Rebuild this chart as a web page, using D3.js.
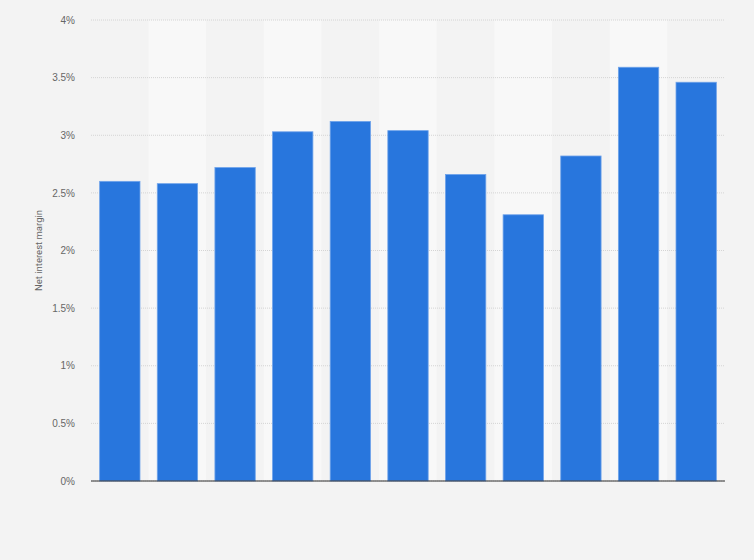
<!DOCTYPE html>
<html>
<head>
<meta charset="utf-8">
<script src="https://cdn.jsdelivr.net/npm/d3@7"></script>
<style>
  body { margin: 0; background: #f3f3f3; }
  svg { display: block; font-family: Roboto, "Open Sans", Arial, sans-serif; }
</style>
</head>
<body>
<svg></svg>
<script>
// Chart data
let categories = ['2012', '2013', '2014', '2015', '2016', '2017', '2018', '2019', '2020', '2021', '2022'];
let margins = [2.60, 2.58, 2.72, 3.03, 3.12, 3.04, 2.66, 2.31, 2.82, 3.59, 3.46];
let yTicks = [0, 0.5, 1, 1.5, 2, 2.5, 3, 3.5, 4];

// SVG dimensions
let width = 754, height = 560;
let plot = { left: 91, right: 725, top: 20, bottom: 481 };

let svg = d3.select('svg')
    .attr('width', width)
    .attr('height', height);

svg.append('rect')
    .attr('width', width)
    .attr('height', height)
    .attr('fill', '#f3f3f3');

let x = d3.scaleBand()
    .domain(categories)
    .range([plot.left, plot.right])
    .paddingInner(0.3)
    .paddingOuter(0.15);

let y = d3.scaleLinear()
    .domain([0, 4])
    .range([plot.bottom, plot.top]);

// alternating column bands
let step = x.step();
svg.selectAll('rect.band')
    .data(categories)
    .enter()
    .append('rect')
    .attr('class', 'band')
    .attr('x', (d) => x(d) - x.bandwidth() * 0 - step * x.paddingInner() / 2)
    .attr('y', plot.top)
    .attr('width', step)
    .attr('height', plot.bottom - plot.top)
    .attr('fill', (d, i) => i % 2 === 1 ? '#f8f8f8' : '#f3f3f3');

// gridlines
svg.selectAll('line.grid')
    .data(yTicks)
    .enter()
    .append('line')
    .attr('class', 'grid')
    .attr('x1', plot.left)
    .attr('x2', plot.right)
    .attr('y1', (d) => y(d))
    .attr('y2', (d) => y(d))
    .attr('stroke', '#d4d4d4')
    .attr('stroke-width', 1)
    .attr('stroke-dasharray', '1,1');

// y axis labels
let yAxis = d3.axisLeft(y)
    .tickValues(yTicks)
    .tickSize(0)
    .tickPadding(0)
    .tickFormat((d) => d + '%');

svg.append('g')
    .attr('transform', 'translate(75,0)')
    .call(yAxis)
    .call((g) => g.select('.domain').remove())
    .selectAll('text')
    .attr('fill', '#666')
    .style('font-size', '10px')
    .attr('dy', '0.32em');

// y axis title
svg.append('text')
    .attr('transform', 'translate(42,' + ((plot.top + plot.bottom) / 2) + ') rotate(-90)')
    .attr('text-anchor', 'middle')
    .attr('fill', '#666')
    .style('font-size', '9.5px')
    .text('Net interest margin');

// bars
svg.selectAll('rect.bar')
    .data(margins)
    .enter()
    .append('rect')
    .attr('class', 'bar')
    .attr('x', (d, i) => x(categories[i]))
    .attr('y', (d) => y(d))
    .attr('width', x.bandwidth())
    .attr('height', (d) => plot.bottom - y(d))
    .attr('fill', '#2876dd')
    .attr('stroke', '#6fa3ea')
    .attr('stroke-width', 0.8);

// baseline
svg.append('line')
    .attr('x1', plot.left)
    .attr('x2', plot.right)
    .attr('y1', plot.bottom)
    .attr('y2', plot.bottom)
    .attr('stroke', '#333')
    .attr('stroke-width', 1.2);
</script>
</body>
</html>
